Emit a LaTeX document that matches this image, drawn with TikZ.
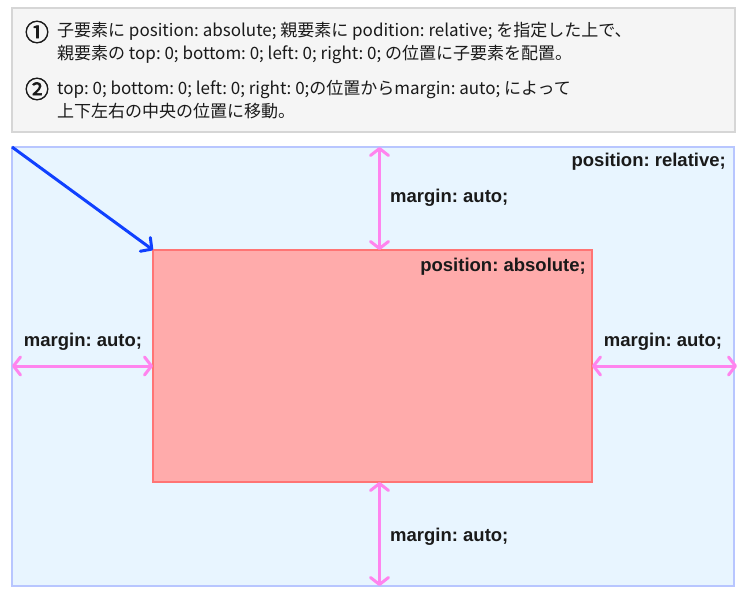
\documentclass[tikz,border=0pt]{standalone}
\usepackage{fontspec}
\setmainfont{Liberation Sans}
\newfontfamily\jp{Noto Sans CJK JP}
\newfontfamily\jpnum[FakeBold=2.5]{Noto Sans CJK JP}
\usetikzlibrary{arrows.meta}
\definecolor{parentfill}{HTML}{E8F5FF}
\definecolor{parentline}{HTML}{B8C6FF}
\definecolor{childfill}{HTML}{FFABAB}
\definecolor{childline}{HTML}{FF7474}
\definecolor{gappink}{HTML}{FF84EE}
\definecolor{pointblue}{HTML}{1040FF}
\definecolor{notefill}{HTML}{F5F5F5}
\definecolor{noteline}{HTML}{D6D6D6}
\definecolor{ink}{HTML}{1A1A1A}
\frenchspacing

\begin{document}
\begin{tikzpicture}[x=1pt, y=-1pt,
  box/.style={draw, line width=1.2pt, inner sep=0pt, outer sep=0pt, anchor=north west},
  gap/.style={gappink, line width=3pt, {Straight Barb[length=7pt,width=18pt,round]}-{Straight Barb[length=7pt,width=18pt,round]}},
  lbl/.style={font=\fontsize{18.5}{21}\selectfont\bfseries, text=ink, inner sep=0pt},
  note/.style={font=\jp\fontsize{17}{23}\selectfont, text=ink, align=left, inner sep=0pt, anchor=west},
  num/.style={font=\jpnum\fontsize{24}{24}\selectfont, text=ink, inner sep=0pt}]
  \useasboundingbox (0,0) rectangle (750,602);
  \node[box, draw=noteline, fill=notefill, minimum width=723pt, minimum height=124pt] (info) at (12,8) {};
  \node[num] (n1) at (37,32) {①};
  \node[note] (t1) at (57,43) {子要素に position: absolute; 親要素に podition: relative; を指定した上で、\\親要素の top: 0; bottom: 0; left: 0; right: 0; の位置に子要素を配置。};
  \node[num] (n2) at (37,89) {②};
  \node[note] (t2) at (57,100) {top: 0; bottom: 0; left: 0; right: 0;の位置からmargin: auto; によって\\上下左右の中央の位置に移動。};

  \node[box, draw=parentline, fill=parentfill, minimum width=722pt, minimum height=439pt] (parent) at (12,147) {};
  \node[box, draw=childline, fill=childfill, minimum width=439pt, minimum height=232pt] (child) at (153,250) {};
  \node[lbl, anchor=east] (rel) at (726,162) {position: relative;};
  \node[lbl, anchor=east] (abs) at (586,267) {position: absolute;};

  \coordinate (ct) at ([xshift=7pt]child.north);
  \coordinate (cb) at ([xshift=7pt]child.south);
  \draw[gap] (ct) -- (ct |- parent.north);
  \draw[gap] (cb) -- (cb |- parent.south);
  \draw[gap] (child.west) -- (child.west -| parent.west);
  \draw[gap] (child.east) -- ([xshift=3pt]child.east -| parent.east);
  \draw[pointblue, line width=3pt, -{Straight Barb[length=8pt,width=17pt,round]}] (parent.north west) -- (child.north west);

  \node[lbl, anchor=west] (mtop) at (390,198) {margin: auto;};
  \node[lbl, anchor=west] (mbot) at (390,537) {margin: auto;};
  \node[lbl] (mleft) at (83,342) {margin: auto;};
  \node[lbl] (mright) at (663,342) {margin: auto;};
\end{tikzpicture}
\end{document}
